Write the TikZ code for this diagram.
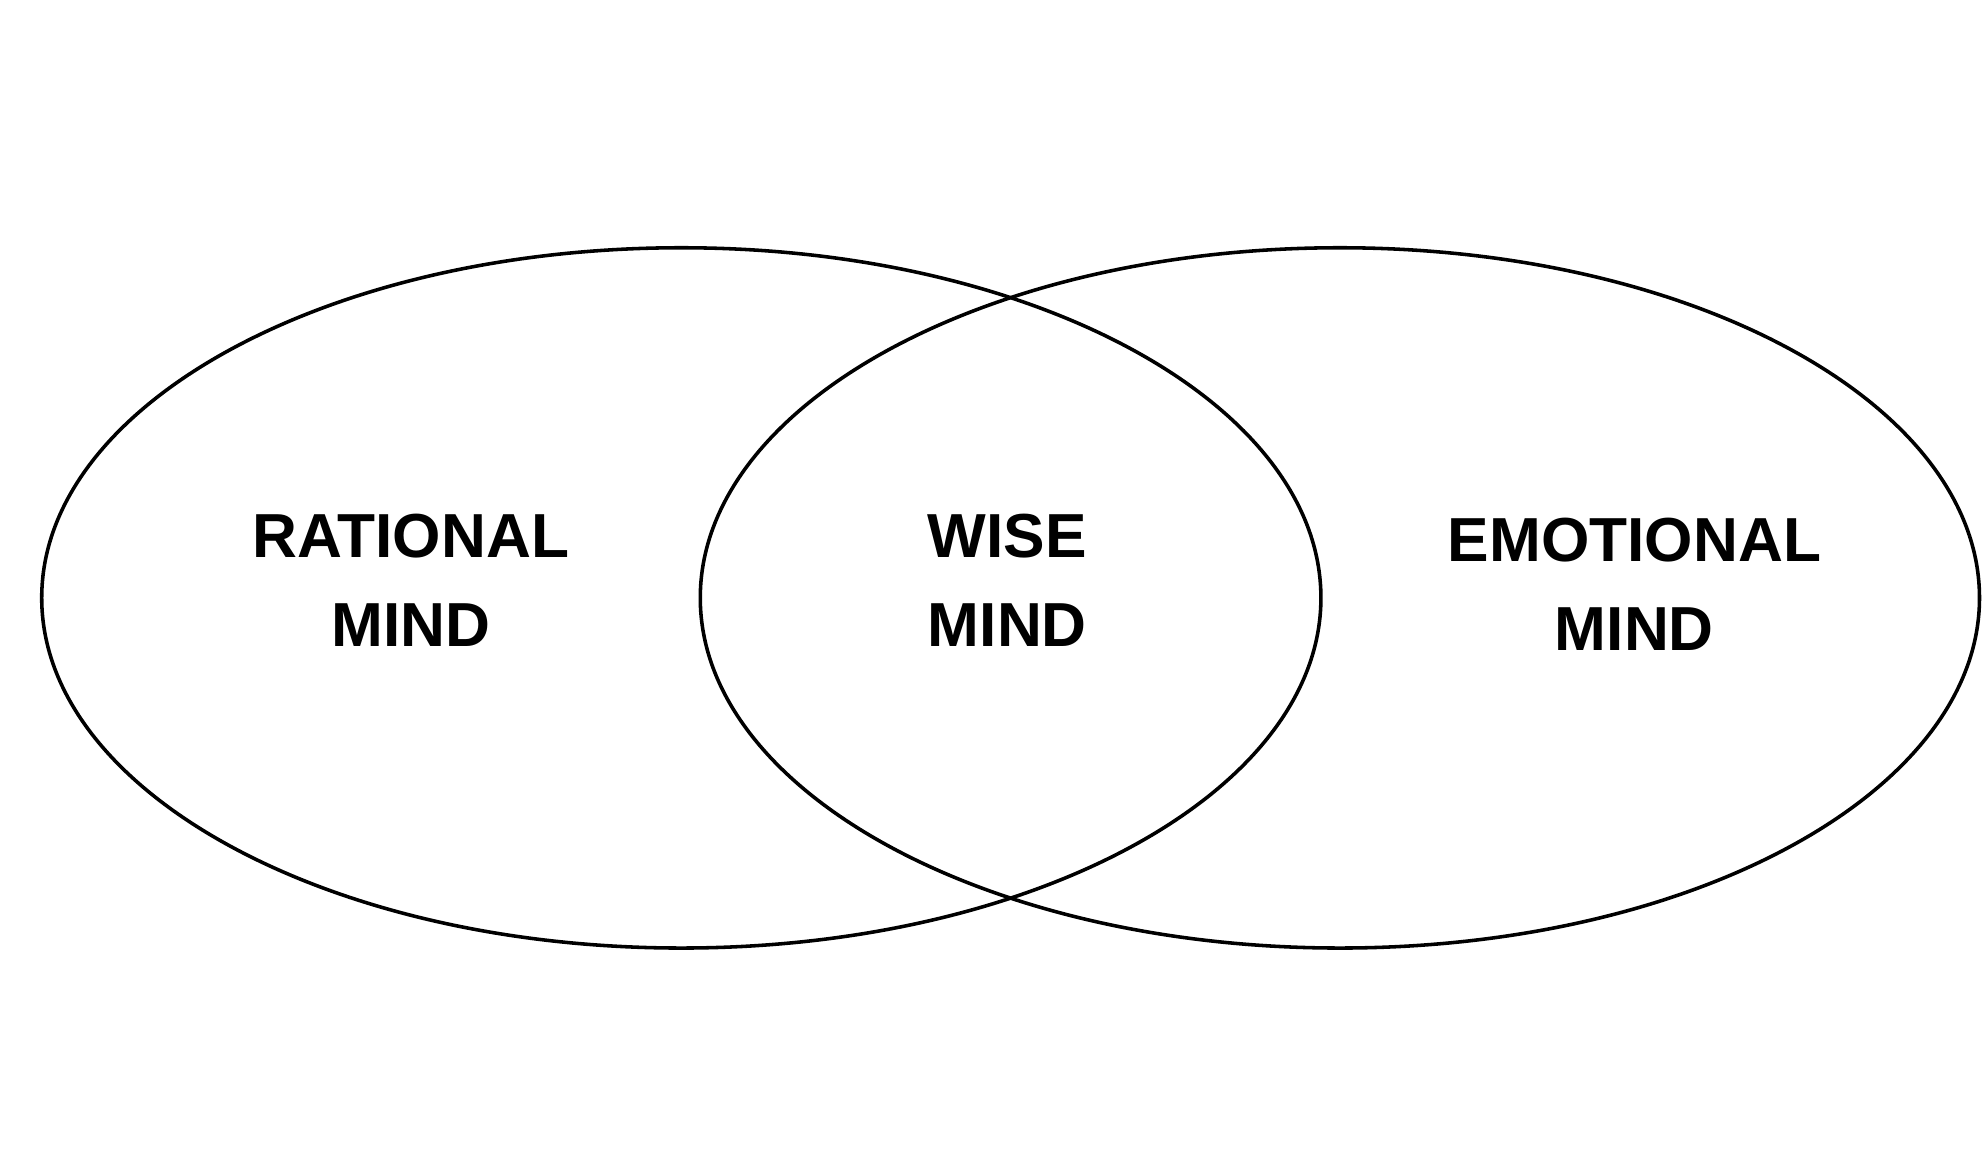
\documentclass[tikz,border=0pt]{standalone}
\usepackage{fontspec}
\setmainfont{Liberation Sans}
\usetikzlibrary{shapes.geometric}

\begin{document}
\begin{tikzpicture}[
  every node/.style={font=\fontsize{14}{20}\selectfont\bfseries},
  mind/.style={draw, line width=0.8pt, ellipse, inner sep=0pt, minimum width=10.12cm, minimum height=5.54cm},
  label/.style={align=center}
]
\useasboundingbox (0,0) rectangle (15.68,9.14);

% Ellipses
\node[mind] (rational) at (5.39,4.41) {};
\node[mind] (emotional) at (10.60,4.41) {};

% Labels
\node[label] (ratlabel) at (3.25,4.55) {RATIONAL\\MIND};
\node[label] (wiselabel) at (7.97,4.55) {WISE\\MIND};
\node[label] (emolabel) at (12.93,4.52) {EMOTIONAL\\MIND};

\end{tikzpicture}
\end{document}
